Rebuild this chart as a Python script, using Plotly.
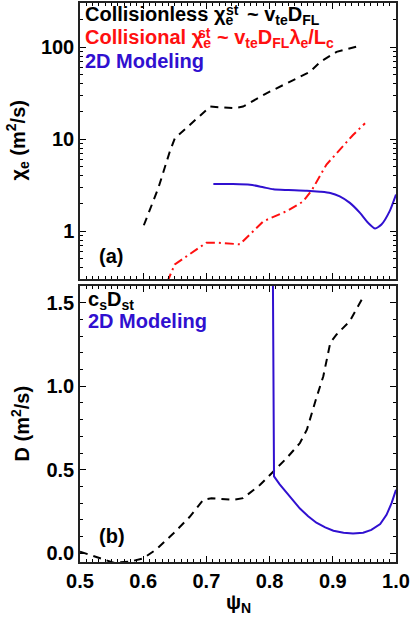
import plotly.graph_objects as go

# ---------------- data ----------------
# panel (a): chi_e (m^2/s), log scale
x_cl = [0.601, 0.624, 0.642, 0.650, 0.690, 0.706, 0.743, 0.758, 0.795, 0.832, 0.864, 0.880, 0.906, 0.946]
chi_cl = [1.16, 2.95, 7.3, 10.2, 18.0, 22.6, 21.7, 22.6, 31.5, 42.0, 54.0, 69.0, 89.0, 105.0]

x_col = [0.638, 0.650, 0.661, 0.700, 0.716, 0.753, 0.790, 0.827, 0.853, 0.867, 0.890, 0.906, 0.932, 0.951]
chi_col = [0.28, 0.435, 0.49, 0.75, 0.75, 0.72, 1.28, 1.65, 2.1, 2.8, 5.3, 7.0, 11.1, 14.9]

x_2d_a = [0.711, 0.740, 0.769, 0.790, 0.806, 0.830, 0.859, 0.880, 0.896, 0.911, 0.927,
          0.943, 0.956, 0.967, 0.977, 0.990, 1.000]
chi_2d = [3.26, 3.25, 3.2, 3.0, 2.85, 2.8, 2.75, 2.68, 2.6, 2.39, 2.03,
          1.58, 1.23, 1.07, 1.18, 1.65, 2.5]

# panel (b): D (m^2/s)
x_cd = [0.500, 0.532, 0.553, 0.579, 0.600, 0.621, 0.648, 0.674, 0.695, 0.708, 0.742, 0.758, 0.785,
        0.806, 0.827, 0.848, 0.859, 0.874, 0.885, 0.896, 0.906, 0.927, 0.946]
d_cd = [0.01, -0.03, -0.056, -0.05, -0.03, 0.024, 0.12, 0.22, 0.32, 0.33, 0.32, 0.33, 0.41,
        0.49, 0.57, 0.66, 0.74, 0.93, 1.06, 1.26, 1.31, 1.39, 1.52]

x_2d_b = [0.805, 0.806, 0.806, 0.807, 0.816, 0.827, 0.838, 0.848, 0.861, 0.874, 0.888, 0.901,
          0.917, 0.932, 0.948, 0.961, 0.975, 0.985, 0.993, 1.000]
d_2d = [1.8, 0.53, 0.50, 0.46, 0.413, 0.362, 0.314, 0.268, 0.222, 0.183, 0.155, 0.135,
        0.123, 0.119, 0.123, 0.14, 0.175, 0.23, 0.30, 0.38]

x_ticks = [0.5, 0.6, 0.7, 0.8, 0.9, 1.0]
x_ticklabels = ["0.5", "0.6", "0.7", "0.8", "0.9", "1.0"]
chi_ticks = [1, 10, 100]
chi_ticklabels = ["1", "10", "100"]
d_ticks = [0.0, 0.5, 1.0, 1.5]
d_ticklabels = ["0.0", "0.5", "1.0", "1.5"]

BLUE = "#3010d0"
RED = "#ff1010"
FONT = "Liberation Sans"

W, H = 412, 618
ML, MR, MT, MB = 80, 16, 1, 56
PW, PH = W - ML - MR, H - MT - MB


def px(x):
    return (x - ML) / PW


def py(y):
    return (H - MB - y) / PH


fig = go.Figure()
fig.add_trace(go.Scatter(x=x_cl, y=chi_cl, mode="lines", xaxis="x", yaxis="y",
                         line=dict(color="black", width=2, dash="8px,6px")))
fig.add_trace(go.Scatter(x=x_col, y=chi_col, mode="lines", xaxis="x", yaxis="y",
                         line=dict(color=RED, width=2, dash="9px,4px,2px,4px")))
fig.add_trace(go.Scatter(x=x_2d_a, y=chi_2d, mode="lines", xaxis="x", yaxis="y",
                         line=dict(color=BLUE, width=2, shape="spline", smoothing=0.6)))
fig.add_trace(go.Scatter(x=x_cd, y=d_cd, mode="lines", xaxis="x2", yaxis="y2",
                         line=dict(color="black", width=2, dash="8px,6px")))
fig.add_trace(go.Scatter(x=x_2d_b, y=d_2d, mode="lines", xaxis="x2", yaxis="y2",
                         line=dict(color=BLUE, width=2)))

top_dom = [py(278), 1.0]
bot_dom = [0.0, py(285)]

minor_x = dict(ticks="inside", ticklen=3, tickwidth=1, tickcolor="black", dtick=0.01, showgrid=False)
common = dict(showline=True, linecolor="#222", linewidth=1.5, mirror="ticks", ticks="inside",
              ticklen=6, tickwidth=1.2, tickcolor="black", showgrid=False, zeroline=False,
              tickfont=dict(family=FONT, size=20, color="black", weight="bold"))

chi_minor = [v * 10 ** e for e in (-1, 0, 1, 2) for v in range(2, 10)]

fig.update_layout(
    width=W, height=H, margin=dict(l=ML, r=MR, t=MT, b=MB),
    paper_bgcolor="white", plot_bgcolor="white", showlegend=False,
    xaxis=dict(domain=[0, 1], anchor="y", range=[0.5, 1.0], tickvals=x_ticks,
               showticklabels=False, minor=minor_x, **common),
    yaxis=dict(domain=top_dom, anchor="x", type="log", range=[-0.52, 2.48],
               tickvals=chi_ticks, ticktext=chi_ticklabels,
               minor=dict(ticks="inside", ticklen=3, tickwidth=1, tickcolor="black",
                          tickmode="array", tickvals=chi_minor, showgrid=False),
               **common),
    xaxis2=dict(domain=[0, 1], anchor="y2", range=[0.5, 1.0], tickvals=x_ticks,
                ticktext=x_ticklabels, minor=minor_x, **common),
    yaxis2=dict(domain=bot_dom, anchor="x2", range=[-0.052, 1.6], tickvals=d_ticks,
                ticktext=d_ticklabels,
                minor=dict(ticks="inside", ticklen=3, tickwidth=1, tickcolor="black",
                           dtick=0.1, showgrid=False),
                **common),
)


def ann(text, x, y, color="black", xanchor="left", yanchor="middle", size=20, angle=0):
    fig.add_annotation(text=text, x=px(x), y=py(y), xref="paper", yref="paper",
                       xanchor=xanchor, yanchor=yanchor, showarrow=False, textangle=angle,
                       font=dict(family=FONT, size=size, color=color, weight="bold"))


# panel (a) legend texts
ann("Collisionless χ<sub>e</sub>", 83, 14)
ann("<sup>st</sup>", 224, 8)
ann("~ v<sub>te</sub>D<sub>FL</sub>", 245, 14)
ann("Collisional χ<sub>e</sub>", 83, 37, color=RED)
ann("<sup>st</sup>", 196, 31, color=RED)
ann("~ v<sub>te</sub>D<sub>FL</sub>λ<sub>e</sub>/L<sub>c</sub>", 215, 37, color=RED)
ann("2D Modeling", 83, 59, color=BLUE)
ann("(a)", 97, 255)

# panel (b) legend texts
ann("c<sub>s</sub>D<sub>st</sub>", 86, 300)
ann("2D Modeling", 86, 320, color=BLUE)
ann("(b)", 97, 536)

# axis titles
ann("χ<sub>e</sub> (m<sup>2</sup>/s)", 18, 139, xanchor="center", angle=-90)
ann("D (m<sup>2</sup>/s)", 20, 423, xanchor="center", angle=-90)
ann("ψ<sub>N</sub>", 238, 604, xanchor="center")

fig.write_html("out.html", config={"displayModeBar": False},
               post_script="document.body.style.margin='0';")
